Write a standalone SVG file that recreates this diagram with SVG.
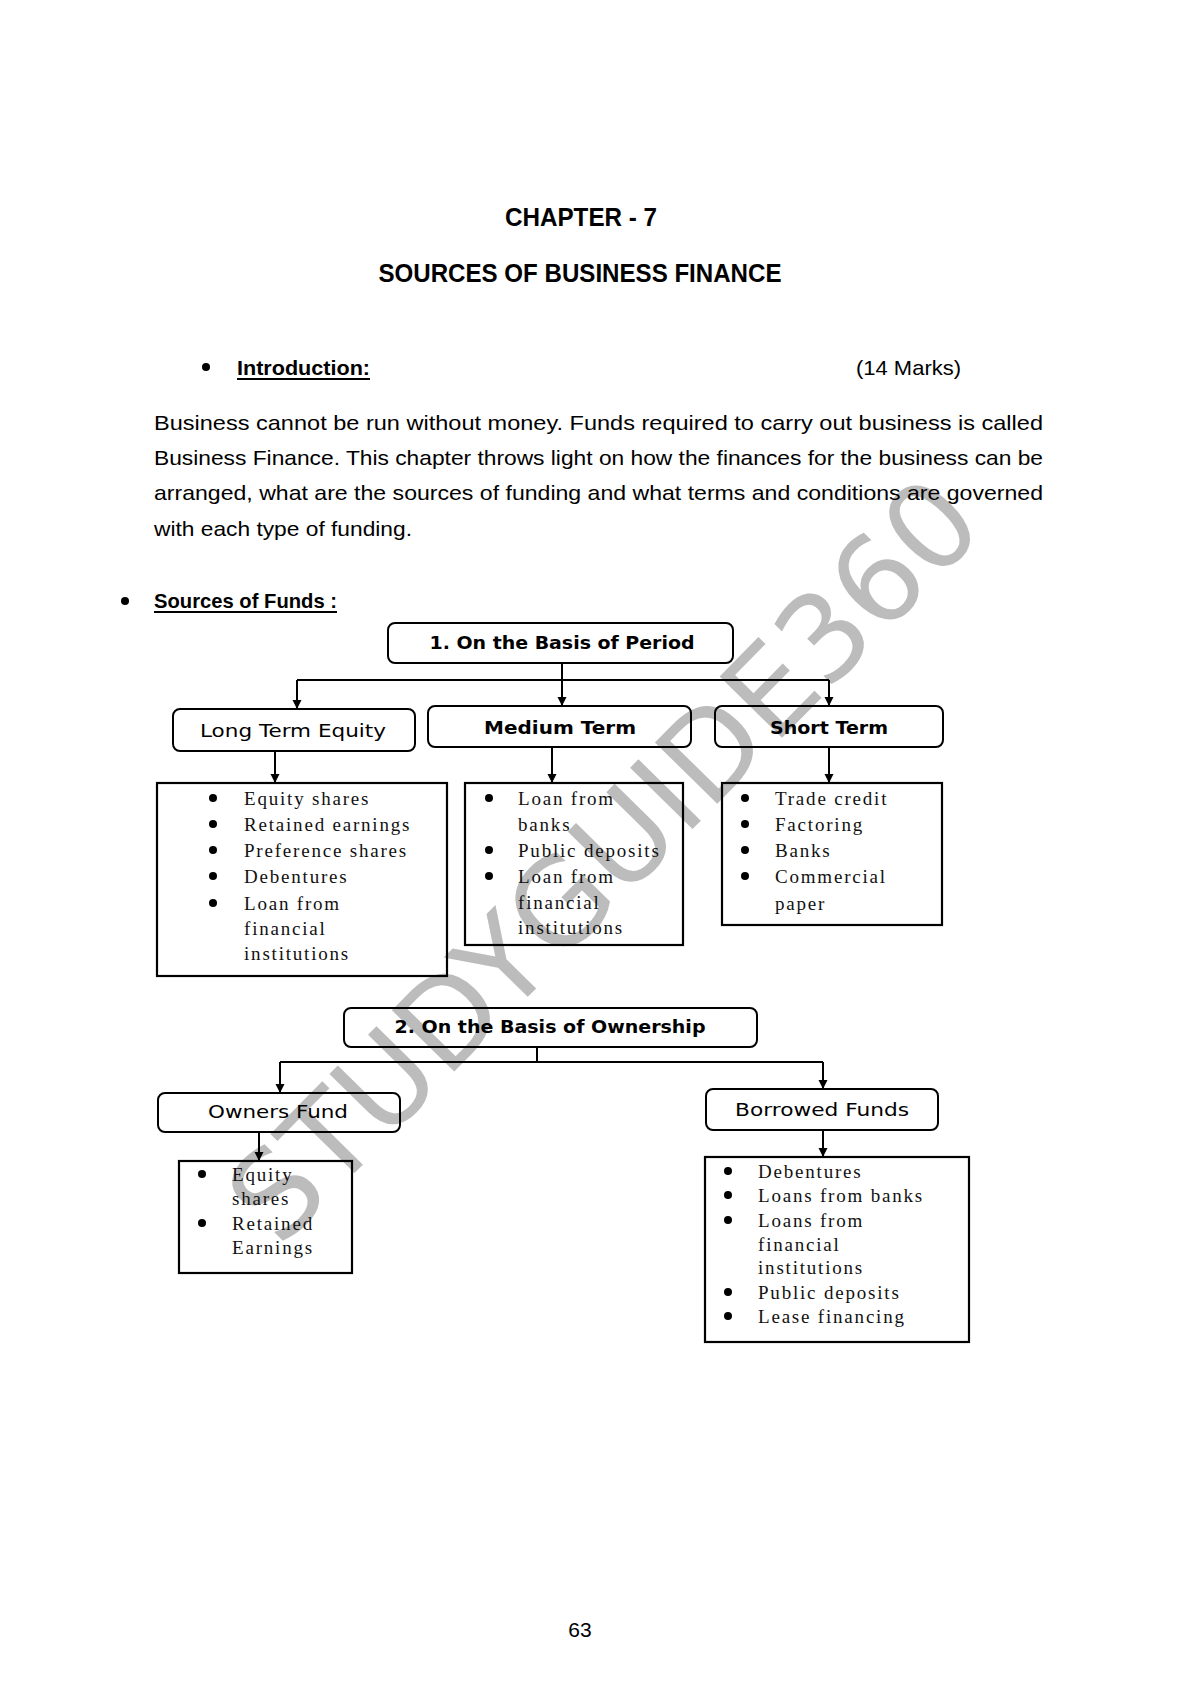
<svg xmlns="http://www.w3.org/2000/svg" width="1200" height="1698" viewBox="0 0 1200 1698">
<defs>
<marker id="arr" markerUnits="userSpaceOnUse" markerWidth="10" markerHeight="10" refX="9" refY="5" orient="auto">
<path d="M0,0.5 L9,5 L0,9.5 z" fill="#000"/>
</marker>
<style>
.page{font-family:"Liberation Sans Narrow","Liberation Sans",Arial,sans-serif;fill:#000}
.h{font-weight:bold;font-size:25px}
.p{font-size:21px}
.lab{font-family:"DejaVu Sans",Verdana,sans-serif;font-size:17px;fill:#000;text-anchor:middle}
.b{font-weight:bold}
.rb{fill:none;stroke:#000;stroke-width:2}
.lb{fill:none;stroke:#000;stroke-width:2.2}
.li{font-family:"Liberation Serif","Times New Roman",serif;font-size:19px;letter-spacing:1.8px;fill:#111}
.dot{fill:#000}
.con{fill:none;stroke:#000;stroke-width:2}
.wm{font-family:"DejaVu Sans",sans-serif;font-size:120px;fill:#bcbcbc;text-anchor:middle}
</style>
</defs>
<rect width="1200" height="1698" fill="#fff"/>

<text class="wm" x="604" y="860" dominant-baseline="central" transform="rotate(-45.5 604 860)">STUDYGUIDE360</text>

<g id="header" class="page">
<text class="h" x="581" y="226" text-anchor="middle" textLength="152" lengthAdjust="spacingAndGlyphs">CHAPTER - 7</text>
<text class="h" x="580" y="282" text-anchor="middle" textLength="403" lengthAdjust="spacingAndGlyphs">SOURCES OF BUSINESS FINANCE</text>
<circle cx="206" cy="367" r="4"/>
<text class="p b" x="237" y="375" textLength="133" lengthAdjust="spacingAndGlyphs">Introduction:</text>
<rect x="237" y="378" width="133" height="2"/>
<text class="p" x="856" y="375" textLength="105" lengthAdjust="spacingAndGlyphs">(14 Marks)</text>
<text class="p" x="154" y="430" textLength="889" lengthAdjust="spacingAndGlyphs">Business cannot be run without money. Funds required to carry out business is called</text>
<text class="p" x="154" y="465" textLength="889" lengthAdjust="spacingAndGlyphs">Business Finance. This chapter throws light on how the finances for the business can be</text>
<text class="p" x="154" y="500" textLength="889" lengthAdjust="spacingAndGlyphs">arranged, what are the sources of funding and what terms and conditions are governed</text>
<text class="p" x="154" y="536" textLength="258" lengthAdjust="spacingAndGlyphs">with each type of funding.</text>
<circle cx="125" cy="601" r="4"/>
<text class="p b" x="154" y="608" textLength="183" lengthAdjust="spacingAndGlyphs">Sources of Funds :</text>
<rect x="154" y="611" width="183" height="2"/>
<text class="p" x="580" y="1637" text-anchor="middle" font-size="20">63</text>
</g>

<g id="connectors">
<path class="con" d="M562,663 V706" marker-end="url(#arr)"/>
<path class="con" d="M297,680 H829"/>
<path class="con" d="M297,680 V709" marker-end="url(#arr)"/>
<path class="con" d="M829,680 V706" marker-end="url(#arr)"/>
<path class="con" d="M275,751 V783" marker-end="url(#arr)"/>
<path class="con" d="M552,747 V783" marker-end="url(#arr)"/>
<path class="con" d="M829,747 V783" marker-end="url(#arr)"/>
<path class="con" d="M537,1047 V1062"/>
<path class="con" d="M280,1062 H823"/>
<path class="con" d="M280,1062 V1093" marker-end="url(#arr)"/>
<path class="con" d="M823,1062 V1089" marker-end="url(#arr)"/>
<path class="con" d="M259,1132 V1161" marker-end="url(#arr)"/>
<path class="con" d="M823,1130 V1157" marker-end="url(#arr)"/>
</g>

<g id="period">
<rect class="rb" x="388" y="623" width="345" height="40" rx="7"/>
<text class="lab b" x="562" y="649" textLength="265" lengthAdjust="spacingAndGlyphs">1. On the Basis of Period</text>
</g>
<g id="long-term">
<rect class="rb" x="173" y="709" width="242" height="42" rx="7"/>
<text class="lab" x="293" y="737" textLength="186" lengthAdjust="spacingAndGlyphs">Long Term Equity</text>
</g>
<g id="medium-term">
<rect class="rb" x="428" y="706" width="263" height="41" rx="7"/>
<text class="lab b" x="560" y="734" textLength="152" lengthAdjust="spacingAndGlyphs">Medium Term</text>
</g>
<g id="short-term">
<rect class="rb" x="715" y="706" width="228" height="41" rx="7"/>
<text class="lab b" x="829" y="734" textLength="118" lengthAdjust="spacingAndGlyphs">Short Term</text>
</g>

<g id="long-list">
<rect class="lb" x="157" y="783" width="290" height="193"/>
<circle class="dot" cx="213" cy="798" r="4"/>
<circle class="dot" cx="213" cy="824" r="4"/>
<circle class="dot" cx="213" cy="850" r="4"/>
<circle class="dot" cx="213" cy="876" r="4"/>
<circle class="dot" cx="213" cy="903" r="4"/>
<text class="li" x="244" y="805">Equity shares</text>
<text class="li" x="244" y="831">Retained earnings</text>
<text class="li" x="244" y="857">Preference shares</text>
<text class="li" x="244" y="883">Debentures</text>
<text class="li" x="244" y="910">Loan from</text>
<text class="li" x="244" y="935">financial</text>
<text class="li" x="244" y="960">institutions</text>
</g>

<g id="medium-list">
<rect class="lb" x="465" y="783" width="218" height="162"/>
<circle class="dot" cx="489" cy="798" r="4"/>
<circle class="dot" cx="489" cy="850" r="4"/>
<circle class="dot" cx="489" cy="876" r="4"/>
<text class="li" x="518" y="805">Loan from</text>
<text class="li" x="518" y="831">banks</text>
<text class="li" x="518" y="857">Public deposits</text>
<text class="li" x="518" y="883">Loan from</text>
<text class="li" x="518" y="909">financial</text>
<text class="li" x="518" y="934">institutions</text>
</g>

<g id="short-list">
<rect class="lb" x="722" y="783" width="220" height="142"/>
<circle class="dot" cx="745" cy="798" r="4"/>
<circle class="dot" cx="745" cy="824" r="4"/>
<circle class="dot" cx="745" cy="850" r="4"/>
<circle class="dot" cx="745" cy="876" r="4"/>
<text class="li" x="775" y="805">Trade credit</text>
<text class="li" x="775" y="831">Factoring</text>
<text class="li" x="775" y="857">Banks</text>
<text class="li" x="775" y="883">Commercial</text>
<text class="li" x="775" y="910">paper</text>
</g>

<g id="ownership">
<rect class="rb" x="344" y="1008" width="413" height="39" rx="7"/>
<text class="lab b" x="550" y="1033" textLength="311" lengthAdjust="spacingAndGlyphs">2. On the Basis of Ownership</text>
</g>
<g id="owners-fund">
<rect class="rb" x="158" y="1093" width="242" height="39" rx="7"/>
<text class="lab" x="278" y="1118" textLength="140" lengthAdjust="spacingAndGlyphs">Owners Fund</text>
</g>
<g id="borrowed-funds">
<rect class="rb" x="706" y="1089" width="232" height="41" rx="7"/>
<text class="lab" x="822" y="1116" textLength="174" lengthAdjust="spacingAndGlyphs">Borrowed Funds</text>
</g>

<g id="owners-list">
<rect class="lb" x="179" y="1161" width="173" height="112"/>
<circle class="dot" cx="202" cy="1174" r="4"/>
<circle class="dot" cx="202" cy="1223" r="4"/>
<text class="li" x="232" y="1181">Equity</text>
<text class="li" x="232" y="1205">shares</text>
<text class="li" x="232" y="1230">Retained</text>
<text class="li" x="232" y="1254">Earnings</text>
</g>

<g id="borrowed-list">
<rect class="lb" x="705" y="1157" width="264" height="185"/>
<circle class="dot" cx="728" cy="1171" r="4"/>
<circle class="dot" cx="728" cy="1195" r="4"/>
<circle class="dot" cx="728" cy="1220" r="4"/>
<circle class="dot" cx="728" cy="1292" r="4"/>
<circle class="dot" cx="728" cy="1316" r="4"/>
<text class="li" x="758" y="1178">Debentures</text>
<text class="li" x="758" y="1202">Loans from banks</text>
<text class="li" x="758" y="1227">Loans from</text>
<text class="li" x="758" y="1251">financial</text>
<text class="li" x="758" y="1274">institutions</text>
<text class="li" x="758" y="1299">Public deposits</text>
<text class="li" x="758" y="1323">Lease financing</text>
</g>
</svg>
